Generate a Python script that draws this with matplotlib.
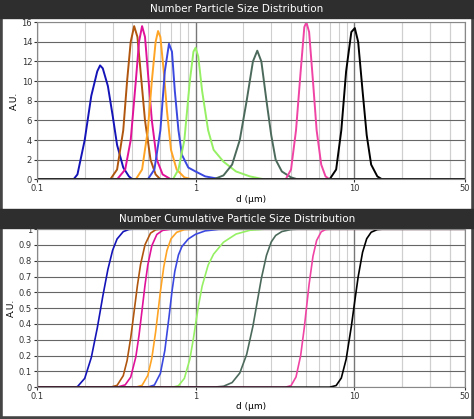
import numpy as np
import matplotlib
matplotlib.use("Agg")
import matplotlib.pyplot as plt
from matplotlib.patches import Rectangle
from matplotlib.ticker import FixedLocator, NullFormatter

# (d in um, A.U.)
curves = [
    ("#1414b8", [0.17, 0.18, 0.2, 0.22, 0.24, 0.25, 0.26, 0.28, 0.3, 0.32, 0.35, 0.38, 0.4],
                [0, 0.5, 4, 8.5, 11, 11.6, 11.3, 9.5, 6.5, 3.5, 1.2, 0.3, 0]),
    ("#b0560e", [0.29, 0.32, 0.35, 0.37, 0.39, 0.41, 0.43, 0.45, 0.48, 0.52, 0.56, 0.6],
                [0, 1, 5, 10, 14, 15.6, 14.5, 11, 6, 2, 0.5, 0]),
    ("#e0129a", [0.32, 0.36, 0.39, 0.42, 0.44, 0.46, 0.48, 0.5, 0.53, 0.57, 0.62, 0.7],
                [0, 1, 4, 10, 14, 15.6, 14.5, 11, 6, 2, 0.5, 0]),
    ("#ffa424", [0.42, 0.46, 0.5, 0.53, 0.56, 0.58, 0.6, 0.63, 0.66, 0.7, 0.76, 0.85, 0.95],
                [0, 1, 5, 10, 14, 15.1, 14.5, 11, 7, 3, 1, 0.2, 0]),
    ("#3a48e0", [0.5, 0.55, 0.6, 0.64, 0.68, 0.71, 0.74, 0.78, 0.82, 0.9, 1.0, 1.15, 1.4, 1.6],
                [0, 1, 5, 11, 13.8, 13, 9, 5, 2.5, 1.2, 0.8, 0.3, 0.05, 0]),
    ("#96f064", [0.72, 0.78, 0.85, 0.92, 0.97, 1.0, 1.04, 1.1, 1.2, 1.3, 1.5, 1.8, 2.2, 2.7],
                [0, 1, 4, 10, 13, 13.4, 12.5, 9, 5, 3, 1.8, 0.8, 0.3, 0]),
    ("#4c6a5c", [1.3, 1.5, 1.7, 1.9, 2.1, 2.3, 2.45, 2.6, 2.8, 3.0, 3.2, 3.5, 4.0, 4.4],
                [0, 0.4, 1.5, 4, 8, 12, 13.1, 12, 8, 4.5, 2, 0.8, 0.2, 0]),
    ("#f044a4", [3.7, 4.0, 4.3, 4.6, 4.85, 5.0, 5.2, 5.5, 5.8, 6.2, 6.6, 7.0],
                [0, 1, 5, 11, 15.5, 16, 15, 10, 5, 1.5, 0.3, 0]),
    ("#000000", [7.0, 7.7, 8.3, 8.9, 9.6, 10.1, 10.6, 11.3, 12.0, 12.8, 14.0, 15.0],
                [0, 1, 5, 11, 15, 15.4, 14, 9, 4.5, 1.5, 0.3, 0]),
]

xticks = [0.1, 1, 10, 50]
xticklabels = ["0.1", "1", "10", "50"]
top_yticks = [0, 2, 4, 6, 8, 10, 12, 14, 16]
bot_yticks = [0, 0.1, 0.2, 0.3, 0.4, 0.5, 0.6, 0.7, 0.8, 0.9, 1]
bot_ylabels = ["0", "0.1", "0.2", "0.3", "0.4", "0.5", "0.6", "0.7", "0.8", "0.9", "1"]

dark = "#2e2e2e"
fig = plt.figure(figsize=(4.74, 4.19), dpi=100)
fig.patch.set_facecolor("white")

# frame and title bars
fig.patches.append(Rectangle((0, 0), 1, 1, transform=fig.transFigure, fill=False,
                             edgecolor="#444444", lw=4, zorder=-1))
fig.patches.append(Rectangle((0, 0.958), 1, 0.042, transform=fig.transFigure,
                             color=dark, zorder=-1))
fig.patches.append(Rectangle((0, 0.456), 1, 0.046, transform=fig.transFigure,
                             color=dark, zorder=-1))
fig.text(0.5, 0.979, "Number Particle Size Distribution", color="white",
         ha="center", va="center", fontsize=7.5)
fig.text(0.5, 0.478, "Number Cumulative Particle Size Distribution", color="white",
         ha="center", va="center", fontsize=7.5)

ax1 = fig.add_axes([0.078, 0.572, 0.903, 0.375])
ax2 = fig.add_axes([0.078, 0.076, 0.903, 0.377])

minor = [v * m for m in [0.1, 1, 10] for v in range(2, 10)] + [20, 30, 40]
for ax in (ax1, ax2):
    ax.set_xscale("log")
    ax.set_xlim(0.1, 50)
    ax.xaxis.set_minor_locator(FixedLocator(minor))
    ax.xaxis.set_minor_formatter(NullFormatter())
    ax.set_xticks(xticks)
    ax.set_xticklabels(xticklabels)
    ax.grid(True, which="minor", axis="x", color="#cfcfcf", lw=0.8)
    ax.grid(True, which="major", axis="x", color="#777777", lw=1)
    ax.grid(True, which="major", axis="y", color="#666666", lw=0.8)
    ax.tick_params(labelsize=6, length=2, pad=1.5, colors="#333333")
    ax.tick_params(which="minor", length=0)
    ax.set_xlabel("d (\u00b5m)", fontsize=6.5, labelpad=1)
    ax.set_ylabel("A.U.", fontsize=6.5, labelpad=2)
    for s in ax.spines.values():
        s.set_color("#888888")
    ax.set_axisbelow(True)

ax1.set_ylim(0, 16)
ax1.set_yticks(top_yticks)
ax2.set_ylim(0, 1)
ax2.set_yticks(bot_yticks)
ax2.set_yticklabels(bot_ylabels)

for color, x, y in curves:
    x = np.array(x)
    y = np.array(y, dtype=float)
    ax1.plot(x, y, color=color, lw=1.4)
    lx = np.log(x)
    area = np.r_[0, np.cumsum(0.5 * (y[1:] + y[:-1]) * np.diff(lx))]
    cum = area / area[-1]
    ax2.plot(np.r_[0.1, x, 50], np.r_[0, cum, 1], color=color, lw=1.2)

ax1.axhline(0, color="#222222", lw=1.4)

fig.savefig("out.png", dpi=100, facecolor=fig.get_facecolor())
